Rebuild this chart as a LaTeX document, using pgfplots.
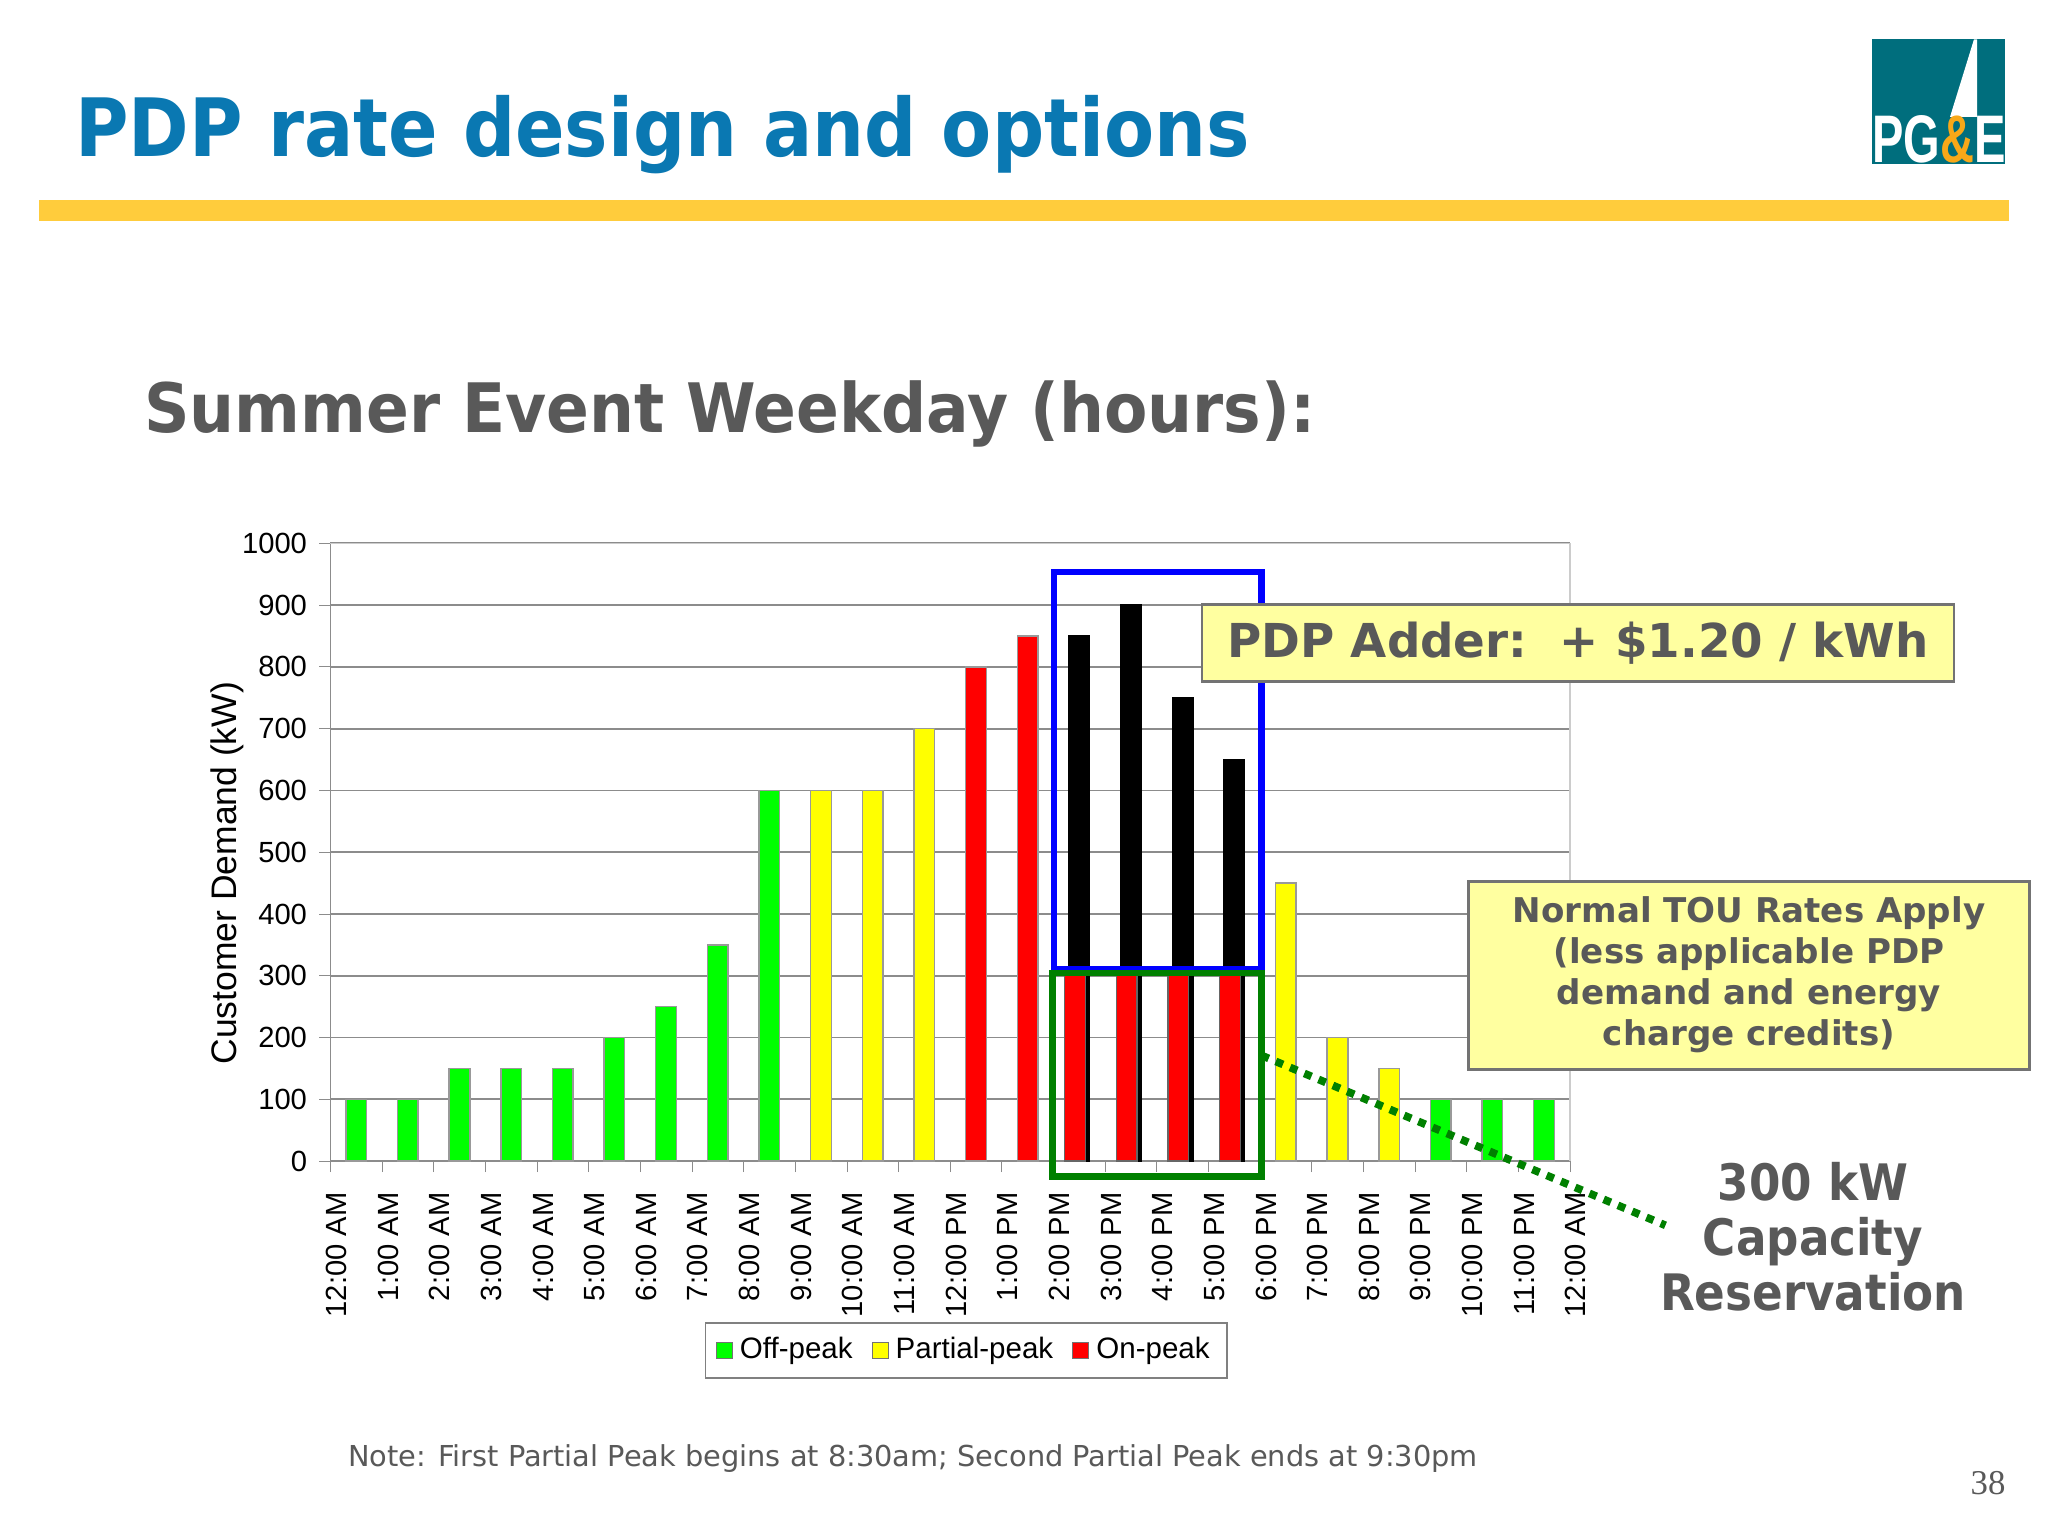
\documentclass[border=0pt]{standalone}
\usepackage{pgfplots}
\pgfplotsset{compat=1.18}
\usepackage{fontspec}
\setmainfont{Liberation Sans}
\newfontfamily\slidefont{DejaVu Sans}
\newfontfamily\numfont{Liberation Serif}
\definecolor{offpeak}{RGB}{0,255,0}
\definecolor{partpeak}{RGB}{255,255,0}
\definecolor{onpeak}{RGB}{255,0,0}
\definecolor{titleblue}{RGB}{10,120,178}
\definecolor{slidegray}{RGB}{89,89,89}
\definecolor{barstripe}{RGB}{255,204,60}
\definecolor{boxyellow}{RGB}{255,255,160}
\definecolor{pgeteal}{RGB}{0,110,125}
\definecolor{pgeorange}{RGB}{248,168,24}
\definecolor{darkgreen}{RGB}{0,128,0}
\pgfplotsset{
  sqlegend/.style={legend image code/.code={\filldraw[##1,draw=black!55,line width=0.3pt] (0cm,-0.08cm) rectangle (0.16cm,0.08cm);}}
}
\begin{document}
\begin{tikzpicture}[x=1cm,y=1cm]
\fill[white] (0,0) rectangle (20.48,15.36);

% slide header
\node[anchor=base west,inner sep=0pt,text=titleblue,font=\slidefont\bfseries\fontsize{22.9}{27}\selectfont]
  at (0.744,13.79) {\scalebox{0.907}[1]{PDP rate design and options}};
\fill[barstripe] (0.392,13.152) rectangle (20.088,13.361);
% logo
\fill[pgeteal] (18.717,13.72) rectangle (20.05,14.967);
\fill[white] (19.50,14.19) -- (19.74,14.967) -- (19.77,14.967) -- (19.77,14.19) -- cycle;
\node[anchor=south west,inner sep=0pt,text=white] at (18.717,13.72)
  {\resizebox{1.333cm}{0.47cm}{\bfseries PG\textcolor{pgeorange}{\&}E}};

\node[anchor=base west,inner sep=0pt,text=slidegray,font=\slidefont\bfseries\fontsize{19.4}{23}\selectfont]
  at (1.437,11.036) {\scalebox{0.926}[1]{Summer Event Weekday (hours):}};

\begin{axis}[
    at={(3.304cm,3.749cm)}, anchor=south west,
    scale only axis, width=12.395cm, height=6.178cm,
    xmin=0, xmax=24, ymin=0, ymax=1000,
    xtick={0,...,24},
    xticklabels={12:00 AM,1:00 AM,2:00 AM,3:00 AM,4:00 AM,5:00 AM,6:00 AM,7:00 AM,8:00 AM,9:00 AM,10:00 AM,11:00 AM,12:00 PM,1:00 PM,2:00 PM,3:00 PM,4:00 PM,5:00 PM,6:00 PM,7:00 PM,8:00 PM,9:00 PM,10:00 PM,11:00 PM,12:00 AM},
    ytick={0,100,...,1000},
    yticklabel style={/pgf/number format/1000 sep={}},
    axis x line*=bottom, axis y line*=left,
    axis line style={black!45},
    tick align=outside, major tick length=0.11cm,
    tick style={black!45},
    ymajorgrids=true,
    grid style={black!45,line width=0.5pt},
    /pgf/number format/assume math mode=true,
    ticklabel style={font=\fontsize{8.3}{10}\selectfont},
    xticklabel style={yshift=-0.08cm,xshift=0.06cm,rotate=90,anchor=east},
    ylabel={Customer Demand (kW)},
    ylabel style={font=\fontsize{10.1}{12}\selectfont,at={(axis description cs:-0.0832,0.466)},anchor=center},
    legend style={at={(0.513,-0.3066)},anchor=center,legend columns=-1,
      draw=black!50,font=\fontsize{8.4}{10}\selectfont,
      /tikz/every even column/.append style={column sep=0.12cm}},
    clip=false,
  ]
  \draw[black!20] (axis cs:0,1000) -- (axis cs:24,1000) -- (axis cs:24,0);

  \addplot[ybar,bar width=0.4,bar shift=0pt,fill=offpeak,draw=black!40,line width=0.4pt,sqlegend] coordinates {
    (0.5,100) (1.5,100) (2.5,150) (3.5,150) (4.5,150) (5.5,200)
    (6.5,250) (7.5,350) (8.5,600) (21.5,100) (22.5,100) (23.5,100)
  };
  \addlegendentry{Off-peak}
  \addplot[ybar,bar width=0.4,bar shift=0pt,fill=partpeak,draw=black!40,line width=0.4pt,sqlegend] coordinates {
    (9.5,600) (10.5,600) (11.5,700) (18.5,450) (19.5,200) (20.5,150)
  };
  \addlegendentry{Partial-peak}
  \addplot[ybar,bar width=0.4,bar shift=0pt,fill=onpeak,draw=black!40,line width=0.4pt,sqlegend] coordinates {
    (12.5,800) (13.5,850)
  };
  \addlegendentry{On-peak}
  % PDP event hours: total demand (black) and the 300 kW reserved part (red)
  \addplot[ybar,bar width=0.4,bar shift=0pt,fill=black,draw=black,forget plot] coordinates {
    (14.5,850) (15.5,900) (16.5,750) (17.5,650)
  };
  \addplot[ybar,bar width=0.4,bar shift=-1.2pt,fill=onpeak,draw=black!60,line width=0.4pt,forget plot] coordinates {
    (14.5,300) (15.5,300) (16.5,300) (17.5,300)
  };

  \draw[blue,line width=1.8pt] (axis cs:14.01,311) rectangle (axis cs:18.03,953);
  \draw[darkgreen,line width=1.8pt] (axis cs:13.98,-25) rectangle (axis cs:18.03,304);
  \draw[darkgreen,line width=2.2pt,dash pattern=on 2.2pt off 2.2pt] (axis cs:18.03,171) -- (axis cs:25.85,-104);
\end{axis}

% callouts
\node[draw=black!55,line width=0.8pt,fill=boxyellow,minimum width=7.52cm,minimum height=0.77cm,
  text=slidegray,font=\slidefont\bfseries\fontsize{13.3}{16}\selectfont]
  at (15.78,8.927) {PDP Adder:~~+ \$1.20 / kWh};
\node[draw=black!55,line width=0.8pt,fill=boxyellow,minimum width=5.616cm,minimum height=1.855cm,
  text=slidegray,align=center,font=\slidefont\bfseries\fontsize{9.7}{11.7}\selectfont]
  at (17.49,5.603) {\raisebox{-0.05cm}{\begin{tabular}{@{}c@{}}Normal TOU Rates Apply\\(less applicable PDP\\demand and energy\\charge credits)\end{tabular}}};
\node[text=slidegray,inner sep=0pt,font=\slidefont\bfseries\fontsize{14.3}{15.6}\selectfont]
  at (18.13,2.913) {\scalebox{0.9}[1]{\begin{tabular}{@{}c@{}}300 kW\\Capacity\\Reservation\end{tabular}}};

\node[anchor=base west,inner sep=0pt,text=slidegray,font=\slidefont\fontsize{8.2}{10}\selectfont]
  at (3.474,0.692) {Note: First Partial Peak begins at 8:30am; Second Partial Peak ends at 9:30pm};
\node[anchor=base west,inner sep=0pt,text=slidegray,font=\numfont\fontsize{9.9}{12}\selectfont]
  at (19.70,0.418) {38};
\end{tikzpicture}
\end{document}
